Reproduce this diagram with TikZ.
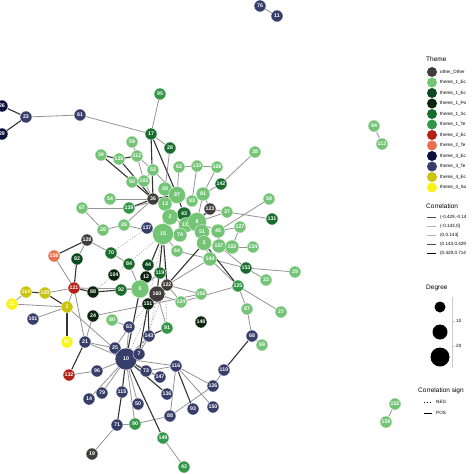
\documentclass[tikz,border=0pt]{standalone}
\usepackage{fontspec}
\setmainfont{Liberation Sans}
\usepackage{tikz}
\usetikzlibrary{backgrounds}
\definecolor{othergray}{RGB}{66,60,60}
\definecolor{ecolight}{RGB}{116,196,118}
\definecolor{ecodark}{RGB}{14,72,32}
\definecolor{podark}{RGB}{10,36,14}
\definecolor{sogreen}{RGB}{24,108,44}
\definecolor{tegreen}{RGB}{52,150,72}
\definecolor{ecored}{RGB}{178,32,22}
\definecolor{teorange}{RGB}{234,110,76}
\definecolor{econavy}{RGB}{12,16,62}
\definecolor{tenavy}{RGB}{56,62,106}
\definecolor{ecoolive}{RGB}{204,194,16}
\definecolor{soyellow}{RGB}{250,244,22}
\tikzset{
	nd/.style={circle, draw=white, line width=0.3pt, inner sep=0pt, minimum size=12pt, text=white, font=\fontsize{5.3}{5.3}\selectfont\bfseries},
	el/.style={gray!85, line width=0.8pt},
	ed/.style={black!80, line width=1.1pt},
	en/.style={gray!80, line width=0.8pt, dotted},
	lgdot/.style={circle, inner sep=0pt, minimum size=10pt},
	lgtext/.style={anchor=west, inner sep=0pt, font=\fontsize{4.6}{5}\selectfont},
	lgtitle/.style={anchor=west, inner sep=0pt, font=\fontsize{6.5}{7}\selectfont}
}

\begin{document}
\begin{tikzpicture}[x=1pt,y=-1pt]
	\useasboundingbox (0,0) rectangle (474,474);
	\node[nd, fill=econavy] (n26) at (2,106) {26};
	\node[nd, fill=econavy] (n29) at (2,134) {29};
	\node[nd, fill=tenavy] (n23) at (26,117) {23};
	\node[nd, fill=tenavy] (n61) at (80,115) {61};
	\node[nd, fill=sogreen] (n17) at (151,134) {17};
	\node[nd, fill=tegreen] (n95) at (160,94) {95};
	\node[nd, fill=sogreen] (n28) at (170,148) {28};
	\node[nd, fill=ecolight] (n59a) at (132,142) {59};
	\node[nd, fill=ecolight] (n34) at (101,155) {34};
	\node[nd, fill=ecolight] (n135) at (119,159) {135};
	\node[nd, fill=ecolight] (n112) at (137,156) {112};
	\node[nd, fill=ecolight] (n52) at (153,170) {52};
	\node[nd, fill=ecolight] (n62) at (179,167) {62};
	\node[nd, fill=ecolight] (n133) at (197,166) {133};
	\node[nd, fill=ecolight] (n108) at (217,167) {108};
	\node[nd, fill=ecolight] (n38) at (255,152) {38};
	\node[nd, fill=ecolight] (n50a) at (132,182) {50};
	\node[nd, fill=ecolight] (n103) at (144,181) {103};
	\node[nd, fill=ecolight, minimum size=14pt] (n20) at (165,189) {20};
	\node[nd, fill=ecolight] (n54) at (110,199) {54};
	\node[nd, fill=othergray] (n36) at (153,199) {36};
	\node[nd, fill=ecolight] (n83) at (192,201) {83};
	\node[nd, fill=ecolight, minimum size=14pt] (n81) at (203,194) {81};
	\node[nd, fill=ecolight, minimum size=17pt] (n97) at (177,195) {97};
	\node[nd, fill=sogreen] (n142) at (221,184) {142};
	\node[nd, fill=ecolight] (n59b) at (269,199) {59};
	\node[nd, fill=ecolight, minimum size=14pt] (n13) at (165,204) {13};
	\node[nd, fill=sogreen, minimum size=14pt] (n43) at (184,214) {43};
	\node[nd, fill=othergray] (n123) at (210,209) {123};
	\node[nd, fill=sogreen] (n131) at (272,219) {131};
	\node[nd, fill=tegreen] (n139) at (129,208) {139};
	\node[nd, fill=ecolight] (n67) at (82,208) {67};
	\node[nd, fill=ecolight, minimum size=16pt] (n2) at (170,217) {2};
	\node[nd, fill=ecolight] (n37) at (227,212) {37};
	\node[nd, fill=ecolight, minimum size=15pt] (n111) at (186,225) {111};
	\node[nd, fill=ecolight, minimum size=19pt] (n8) at (197,222) {8};
	\node[nd, fill=ecolight] (n127) at (240,227) {127};
	\node[nd, fill=ecolight] (n28b) at (103,230) {28};
	\node[nd, fill=ecolight] (n26b) at (124,225) {26};
	\node[nd, fill=tenavy] (n137) at (147,228) {137};
	\node[nd, fill=ecolight, minimum size=14pt] (n74) at (180,235) {74};
	\node[nd, fill=ecolight, minimum size=21pt] (n15) at (163,234) {15};
	\node[nd, fill=ecolight, minimum size=15pt] (n51) at (202,232) {51};
	\node[nd, fill=ecolight, minimum size=14pt] (n45) at (218,231) {45};
	\node[nd, fill=ecolight, minimum size=15pt] (n3) at (204,243) {3};
	\node[nd, fill=ecolight, minimum size=14pt] (n157) at (219,246) {157};
	\node[nd, fill=ecolight, minimum size=14pt] (n102) at (232,247) {102};
	\node[nd, fill=ecolight] (n134) at (253,247) {134};
	\node[nd, fill=ecolight] (n64) at (177,251) {64};
	\node[nd, fill=ecolight, minimum size=14pt] (n144) at (210,259) {144};
	\node[nd, fill=sogreen] (n153) at (246,268) {153};
	\node[nd, fill=ecolight] (n29b) at (295,272) {29};
	\node[nd, fill=ecolight] (n33) at (266,280) {33};
	\node[nd, fill=tegreen] (n125) at (238,286) {125};
	\node[nd, fill=ecolight] (n156) at (201,294) {156};
	\node[nd, fill=ecolight] (n87) at (247,309) {87};
	\node[nd, fill=ecolight] (n27) at (281,312) {27};
	\node[nd, fill=podark] (n148) at (201,322) {148};
	\node[nd, fill=tenavy] (n68) at (252,336) {68};
	\node[nd, fill=ecolight] (n69) at (262,345) {69};
	\node[nd, fill=tenavy] (n110) at (224,370) {110};
	\node[nd, fill=tenavy] (n126) at (213,386) {126};
	\node[nd, fill=tenavy] (n150) at (213,407) {150};
	\node[nd, fill=tenavy] (n93) at (193,409) {93};
	\node[nd, fill=tenavy] (n88b) at (170,416) {88};
	\node[nd, fill=sogreen] (n70) at (111,253) {70};
	\node[nd, fill=othergray] (n128) at (87,240) {128};
	\node[nd, fill=teorange] (n158) at (54,256) {158};
	\node[nd, fill=ecodark] (n82) at (77,259) {82};
	\node[nd, fill=sogreen] (n84) at (129,264) {84};
	\node[nd, fill=ecodark] (n44) at (148,265) {44};
	\node[nd, fill=podark] (n104) at (114,275) {104};
	\node[nd, fill=podark] (n12) at (146,277) {12};
	\node[nd, fill=sogreen] (n119) at (160,273) {119};
	\node[nd, fill=sogreen] (n92) at (121,290) {92};
	\node[nd, fill=ecolight, minimum size=18pt] (n5) at (140,289) {5};
	\node[nd, fill=othergray] (n122) at (167,285) {122};
	\node[nd, fill=othergray, minimum size=16pt] (n160) at (157,294) {160};
	\node[nd, fill=ecored] (n121) at (74,288) {121};
	\node[nd, fill=podark] (n88a) at (93,292) {88};
	\node[nd, fill=ecoolive] (n114) at (26,292) {114};
	\node[nd, fill=ecoolive] (n120) at (45,293) {120};
	\node[nd, fill=soyellow] (n31) at (12,304) {31};
	\node[nd, fill=ecoolive] (n1) at (67,307) {1};
	\node[nd, fill=tenavy] (n101) at (33,319) {101};
	\node[nd, fill=podark] (n24) at (93,316) {24};
	\node[nd, fill=ecolight] (n80) at (112,320) {80};
	\node[nd, fill=podark] (n151) at (148,304) {151};
	\node[nd, fill=ecolight] (n124) at (181,302) {124};
	\node[nd, fill=tenavy] (n63) at (129,327) {63};
	\node[nd, fill=tegreen] (n91) at (167,328) {91};
	\node[nd, fill=soyellow] (n57) at (67,342) {57};
	\node[nd, fill=tenavy] (n21) at (85,342) {21};
	\node[nd, fill=tenavy] (n25) at (115,348) {25};
	\node[nd, fill=tenavy] (n143) at (149,336) {143};
	\node[nd, fill=tenavy, minimum size=22pt] (n10) at (126,359) {10};
	\node[nd, fill=tenavy] (n7) at (139,354) {7};
	\node[nd, fill=ecored] (n132) at (69,375) {132};
	\node[nd, fill=tenavy] (n96) at (97,371) {96};
	\node[nd, fill=tenavy] (n116) at (176,366) {116};
	\node[nd, fill=tenavy] (n73) at (146,371) {73};
	\node[nd, fill=tenavy] (n147) at (160,377) {147};
	\node[nd, fill=tenavy] (n14) at (89,399) {14};
	\node[nd, fill=tenavy] (n79) at (102,393) {79};
	\node[nd, fill=tenavy] (n115) at (122,392) {115};
	\node[nd, fill=tenavy] (n136) at (167,394) {136};
	\node[nd, fill=tenavy] (n50b) at (138,404) {50};
	\node[nd, fill=tenavy] (n71) at (117,425) {71};
	\node[nd, fill=tegreen] (n90) at (135,424) {90};
	\node[nd, fill=tegreen] (n149) at (163,438) {149};
	\node[nd, fill=othergray] (n19) at (92,454) {19};
	\node[nd, fill=tegreen] (n42) at (184,467) {42};
	\node[nd, fill=tenavy] (n76) at (260,6) {76};
	\node[nd, fill=tenavy] (n11) at (277,16) {11};
	\node[nd, fill=ecolight] (n94) at (374,126) {94};
	\node[nd, fill=ecolight] (n113) at (382,144) {113};
	\node[nd, fill=ecolight] (n152) at (395,404) {152};
	\node[nd, fill=ecolight] (n159) at (386,422) {159};
	\begin{scope}[on background layer]
		\draw[ed] (n26) -- (n23);
		\draw[ed] (n29) -- (n23);
		\draw[el] (n23) -- (n61);
		\draw[el] (n61) -- (n17);
		\draw[el] (n95) -- (n17);
		\draw[el] (n17) -- (n28);
		\draw[ed] (n17) -- (n36);
		\draw[ed] (n17) -- (n97);
		\draw[el] (n28) -- (n20);
		\draw[el] (n59a) -- (n112);
		\draw[ed] (n34) -- (n135);
		\draw[ed] (n135) -- (n112);
		\draw[ed] (n135) -- (n36);
		\draw[ed] (n34) -- (n36);
		\draw[el] (n112) -- (n52);
		\draw[el] (n112) -- (n103);
		\draw[el] (n52) -- (n103);
		\draw[el] (n52) -- (n97);
		\draw[el] (n103) -- (n36);
		\draw[el] (n50a) -- (n103);
		\draw[el] (n62) -- (n97);
		\draw[el] (n62) -- (n133);
		\draw[el] (n133) -- (n108);
		\draw[el] (n133) -- (n83);
		\draw[el] (n108) -- (n81);
		\draw[el] (n38) -- (n142);
		\draw[el] (n142) -- (n81);
		\draw[el] (n54) -- (n36);
		\draw[el] (n67) -- (n139);
		\draw[el] (n67) -- (n28b);
		\draw[ed] (n139) -- (n36);
		\draw[el] (n139) -- (n97);
		\draw[el] (n28b) -- (n26b);
		\draw[el] (n26b) -- (n15);
		\draw[el] (n26b) -- (n36);
		\draw[el] (n20) -- (n97);
		\draw[el] (n97) -- (n83);
		\draw[el] (n83) -- (n81);
		\draw[ed] (n97) -- (n43);
		\draw[el] (n97) -- (n13);
		\draw[ed] (n36) -- (n97);
		\draw[el] (n36) -- (n13);
		\draw[el] (n13) -- (n2);
		\draw[el] (n2) -- (n15);
		\draw[el] (n2) -- (n111);
		\draw[ed] (n2) -- (n43);
		\draw[ed] (n43) -- (n111);
		\draw[el] (n111) -- (n8);
		\draw[el] (n8) -- (n51);
		\draw[el] (n8) -- (n81);
		\draw[el] (n81) -- (n123);
		\draw[ed] (n8) -- (n123);
		\draw[el] (n123) -- (n37);
		\draw[el] (n8) -- (n37);
		\draw[el] (n37) -- (n131);
		\draw[el] (n59b) -- (n45);
		\draw[el] (n8) -- (n45);
		\draw[el] (n45) -- (n127);
		\draw[el] (n127) -- (n102);
		\draw[el] (n45) -- (n157);
		\draw[el] (n157) -- (n102);
		\draw[el] (n102) -- (n134);
		\draw[el] (n3) -- (n157);
		\draw[el] (n51) -- (n3);
		\draw[el] (n3) -- (n144);
		\draw[el] (n157) -- (n153);
		\draw[el] (n144) -- (n153);
		\draw[el] (n153) -- (n29b);
		\draw[el] (n153) -- (n33);
		\draw[el] (n144) -- (n125);
		\draw[ed] (n3) -- (n125);
		\draw[el] (n125) -- (n87);
		\draw[el] (n125) -- (n27);
		\draw[el] (n87) -- (n68);
		\draw[el] (n68) -- (n69);
		\draw[ed] (n68) -- (n110);
		\draw[el] (n110) -- (n126);
		\draw[el] (n126) -- (n88b);
		\draw[el] (n116) -- (n126);
		\draw[el] (n116) -- (n150);
		\draw[ed] (n116) -- (n93);
		\draw[el] (n71) -- (n90);
		\draw[el] (n90) -- (n88b);
		\draw[el] (n15) -- (n74);
		\draw[el] (n15) -- (n64);
		\draw[el] (n15) -- (n137);
		\draw[el] (n15) -- (n13);
		\draw[el] (n74) -- (n111);
		\draw[el] (n64) -- (n144);
		\draw[ed] (n15) -- (n5);
		\draw[ed] (n15) -- (n160);
		\draw[ed] (n15) -- (n122);
		\draw[el] (n5) -- (n92);
		\draw[el] (n5) -- (n84);
		\draw[el] (n5) -- (n44);
		\draw[ed] (n5) -- (n12);
		\draw[el] (n5) -- (n119);
		\draw[ed] (n5) -- (n160);
		\draw[ed] (n5) -- (n10);
		\draw[el] (n5) -- (n121);
		\draw[ed] (n88a) -- (n92);
		\draw[ed] (n121) -- (n88a);
		\draw[el] (n70) -- (n84);
		\draw[el] (n128) -- (n70);
		\draw[el] (n128) -- (n82);
		\draw[ed] (n128) -- (n158);
		\draw[el] (n158) -- (n121);
		\draw[ed] (n82) -- (n121);
		\draw[el] (n121) -- (n120);
		\draw[el] (n121) -- (n1);
		\draw[ed] (n114) -- (n120);
		\draw[el] (n114) -- (n31);
		\draw[ed] (n120) -- (n1);
		\draw[el] (n31) -- (n1);
		\draw[el] (n101) -- (n1);
		\draw[ed] (n1) -- (n57);
		\draw[el] (n121) -- (n21);
		\draw[ed] (n21) -- (n132);
		\draw[el] (n21) -- (n25);
		\draw[el] (n21) -- (n10);
		\draw[el] (n24) -- (n21);
		\draw[el] (n24) -- (n156);
		\draw[el] (n1) -- (n10);
		\draw[el] (n10) -- (n25);
		\draw[el] (n10) -- (n63);
		\draw[ed] (n10) -- (n7);
		\draw[el] (n10) -- (n96);
		\draw[ed] (n10) -- (n73);
		\draw[el] (n10) -- (n79);
		\draw[el] (n10) -- (n14);
		\draw[ed] (n10) -- (n115);
		\draw[el] (n10) -- (n50b);
		\draw[ed] (n10) -- (n149);
		\draw[el] (n10) -- (n116);
		\draw[ed] (n10) -- (n136);
		\draw[el] (n10) -- (n147);
		\draw[el] (n10) -- (n143);
		\draw[el] (n10) -- (n90);
		\draw[el] (n96) -- (n132);
		\draw[el] (n63) -- (n80);
		\draw[el] (n63) -- (n25);
		\draw[el] (n7) -- (n143);
		\draw[ed] (n7) -- (n151);
		\draw[ed] (n143) -- (n91);
		\draw[ed] (n143) -- (n151);
		\draw[el] (n91) -- (n160);
		\draw[el] (n73) -- (n116);
		\draw[el] (n73) -- (n147);
		\draw[ed] (n115) -- (n71);
		\draw[el] (n71) -- (n19);
		\draw[el] (n149) -- (n42);
		\draw[el] (n116) -- (n88b);
		\draw[ed] (n160) -- (n122);
		\draw[el] (n122) -- (n124);
		\draw[el] (n160) -- (n124);
		\draw[ed] (n160) -- (n151);
		\draw[el] (n122) -- (n156);
		\draw[ed] (n122) -- (n3);
		\draw[el] (n122) -- (n144);
		\draw[el] (n124) -- (n125);
		\draw[el] (n76) -- (n11);
		\draw[el] (n94) -- (n113);
		\draw[el] (n152) -- (n159);
		\draw[en] (n15) -- (n104);
		\draw[en] (n137) -- (n70);
		\draw[en] (n88a) -- (n104);
		\draw[en] (n7) -- (n122);
		\draw[en] (n143) -- (n160);
		\draw[en] (n91) -- (n15);
		\draw[en] (n10) -- (n160);
		\draw[en] (n63) -- (n151);
		\draw[en] (n15) -- (n151);
	\end{scope}
	\node[lgtitle] at (426,59) {Theme};
	\node[lgdot, fill=othergray] at (432,72) {};
	\node[lgtext] at (440,72) {other\_Other};
	\node[lgdot, fill=ecolight] at (432,82.5) {};
	\node[lgtext] at (440,82.5) {theme\_1\_Ec};
	\node[lgdot, fill=ecodark] at (432,93) {};
	\node[lgtext] at (440,93) {theme\_1\_Ec};
	\node[lgdot, fill=podark] at (432,103.5) {};
	\node[lgtext] at (440,103.5) {theme\_1\_Po};
	\node[lgdot, fill=sogreen] at (432,114) {};
	\node[lgtext] at (440,114) {theme\_1\_Sc};
	\node[lgdot, fill=tegreen] at (432,124.5) {};
	\node[lgtext] at (440,124.5) {theme\_1\_Te};
	\node[lgdot, fill=ecored] at (432,135) {};
	\node[lgtext] at (440,135) {theme\_2\_Ec};
	\node[lgdot, fill=teorange] at (432,145.5) {};
	\node[lgtext] at (440,145.5) {theme\_2\_Te};
	\node[lgdot, fill=econavy] at (432,156) {};
	\node[lgtext] at (440,156) {theme\_3\_Ec};
	\node[lgdot, fill=tenavy] at (432,166.5) {};
	\node[lgtext] at (440,166.5) {theme\_3\_Te};
	\node[lgdot, fill=ecoolive] at (432,177) {};
	\node[lgtext] at (440,177) {theme\_4\_Ec};
	\node[lgdot, fill=soyellow] at (432,187.5) {};
	\node[lgtext] at (440,187.5) {theme\_4\_So};
	\node[lgtitle] at (426,206) {Correlation};
	\draw[black!70, line width=1pt] (427,217) -- (436,217);
	\node[lgtext] at (440,217) {(-0.429,-0.14};
	\draw[gray!60, line width=1pt] (427,226) -- (436,226);
	\node[lgtext] at (440,226) {(-0.143,0]};
	\draw[gray!60, line width=1pt] (427,235) -- (436,235);
	\node[lgtext] at (440,235) {(0,0.143]};
	\draw[black!70, line width=1pt] (427,244) -- (436,244);
	\node[lgtext] at (440,244) {(0.143,0.429};
	\draw[black, line width=1pt] (427,253) -- (436,253);
	\node[lgtext] at (440,253) {(0.429,0.714};
	\node[lgtitle] at (426,288) {Degree};
	\draw[gray!40, line width=0.4pt] (452,297) -- (452,368);
	\draw[gray!40, line width=0.4pt] (452,321) -- (455,321);
	\draw[gray!40, line width=0.4pt] (452,346) -- (455,346);
	\fill[black] (440,307) circle (5.5);
	\fill[black] (440,332) circle (7.5);
	\fill[black] (440,357) circle (9.5);
	\node[lgtext] at (456,321) {10};
	\node[lgtext] at (456,346) {20};
	\node[lgtitle] at (418,391) {Correlation sign};
	\draw[black, line width=1pt, dotted] (424,402) -- (432,402);
	\node[lgtext] at (436,402) {NEG};
	\draw[black, line width=1pt] (424,413) -- (432,413);
	\node[lgtext] at (436,413) {POS};
\end{tikzpicture}
\end{document}
